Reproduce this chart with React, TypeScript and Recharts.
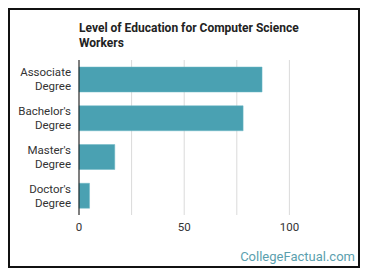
import { BarChart, Bar, XAxis, YAxis, CartesianGrid } from 'recharts';

const categories = ["Associate Degree", "Bachelor's Degree", "Master's Degree", "Doctor's Degree"];
const values = [87, 78, 17, 5];
const gridTicks = [0, 25, 50, 75, 100];
const majorTicks = [0, 50, 100];

const data = categories.map((name, i) => ({ name, value: values[i] }));

const YTick = (props: any) => {
  const { x, y, payload } = props;
  const words = String(payload.value).split(' ');
  return (
    <text x={x} y={y} textAnchor="end" fill="#333" fontSize={11.5} fontFamily="Roboto">
      <tspan x={x} dy={-3}>{words[0]}</tspan>
      <tspan x={x} dy={14}>{words.slice(1).join(' ')}</tspan>
    </text>
  );
};

export default function App() {
  return (
    <div
      style={{
        position: 'relative',
        width: 348,
        height: 256,
        border: '2px solid #111',
        fontFamily: 'Roboto, sans-serif',
        background: '#fff',
      }}
    >
      <div
        style={{
          position: 'absolute',
          left: 69,
          top: 11,
          width: 230,
          fontSize: 12,
          fontWeight: 700,
          lineHeight: '15px',
          color: '#222',
        }}
      >
        Level of Education for Computer Science Workers
      </div>
      <div style={{ position: 'absolute', left: 0, top: 0 }}>
        <BarChart
          width={348}
          height={256}
          data={data}
          layout="vertical"
          margin={{ top: 50, right: 16, left: 0, bottom: 21 }}
        >
          <CartesianGrid horizontal={false} stroke="#dadada" syncWithTicks />
          <XAxis
            type="number"
            domain={[0, 125]}
            ticks={gridTicks}
            tickFormatter={(v: number) => (majorTicks.includes(v) ? String(v) : '')}
            axisLine={false}
            tickLine={false}
            height={30}
            tick={{ fill: '#333', fontSize: 11.5, fontFamily: 'Roboto' }}
          />
          <YAxis
            type="category"
            dataKey="name"
            width={69}
            axisLine={{ stroke: '#111' }}
            tickLine={false}
            tick={<YTick />}
          />
          <Bar
            dataKey="value"
            fill="#4aa1b2"
            stroke="#6fb9c6"
            strokeWidth={0.5}
            barSize={25}
            isAnimationActive={false}
          />
        </BarChart>
      </div>
      <div
        style={{
          position: 'absolute',
          right: 3,
          top: 239,
          fontSize: 13,
          color: '#5b9fae',
        }}
      >
        CollegeFactual.com
      </div>
    </div>
  );
}
